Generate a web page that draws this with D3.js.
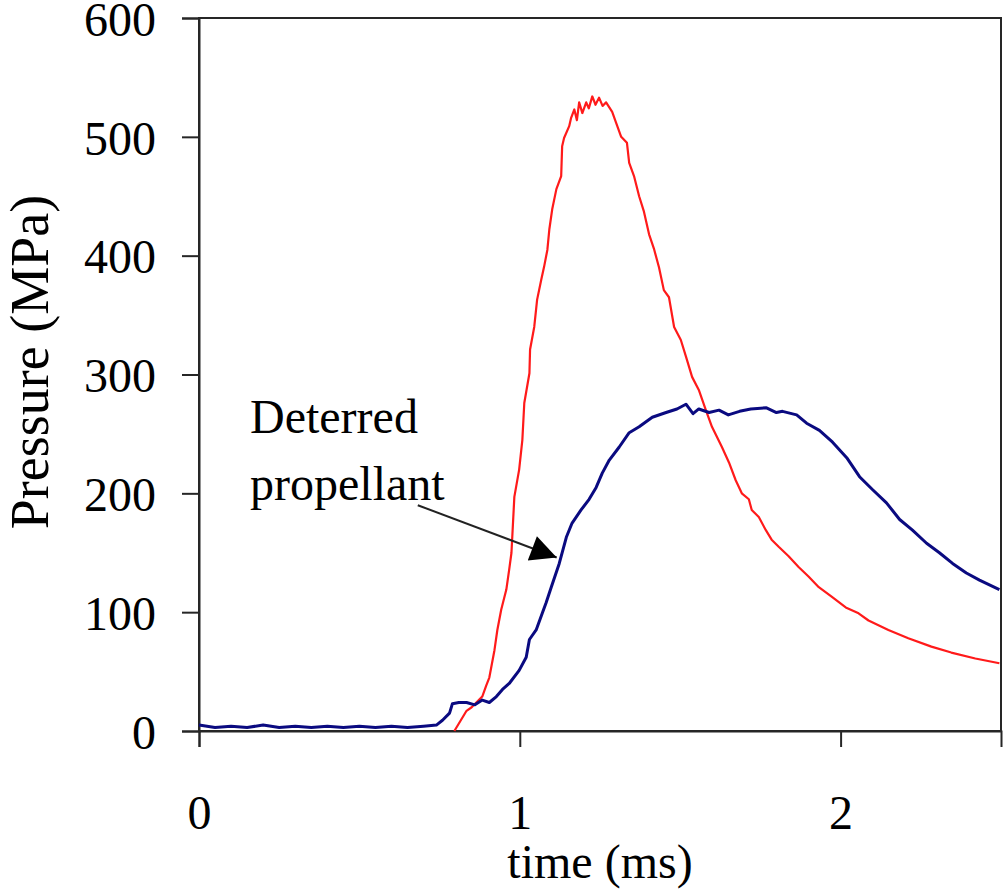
<!DOCTYPE html>
<html>
<head>
<meta charset="utf-8">
<script src="https://cdn.jsdelivr.net/npm/d3@7"></script>
<style>
  body { margin: 0; background: #fff; }
  text { font-family: "Liberation Serif", "Times New Roman", serif; }
</style>
</head>
<body>
<div id="chart"></div>
<script>
// values: time (ms), pressure (MPa)
var redTime = [0.796, 0.834, 0.850, 0.883, 0.895, 0.905, 0.921, 0.930, 0.942, 0.958, 0.967, 0.974, 0.983, 0.998, 1.008, 1.014, 1.030, 1.032, 1.045, 1.054, 1.067, 1.076, 1.086, 1.092, 1.101, 1.114, 1.129, 1.132, 1.138, 1.154, 1.160, 1.170, 1.178, 1.185, 1.195, 1.207, 1.215, 1.226, 1.236, 1.247, 1.258, 1.269, 1.288, 1.300, 1.316, 1.334, 1.341, 1.356, 1.372, 1.387, 1.403, 1.418, 1.434, 1.449, 1.465, 1.481, 1.502, 1.518, 1.537, 1.558, 1.580, 1.599, 1.630, 1.652, 1.673, 1.692, 1.714, 1.723, 1.745, 1.767, 1.785, 1.807, 1.838, 1.869, 1.900, 1.932, 1.972, 2.016, 2.056, 2.087, 2.149, 2.211, 2.283, 2.345, 2.420, 2.495];
var redPressure = [0, 17, 20, 29, 38, 45, 68, 85, 102, 119, 136, 150, 197, 220, 245, 276, 301, 321, 340, 363, 380, 391, 405, 422, 439, 456, 467, 492, 499, 509, 516, 523, 514, 529, 520, 529, 524, 534, 527, 533, 526, 529, 521, 512, 500, 495, 478, 467, 450, 437, 418, 406, 390, 371, 365, 340, 329, 315, 298, 287, 270, 256, 239, 226, 211, 200, 195, 186, 180, 169, 161, 155, 147, 138, 130, 121, 113, 104, 99, 93, 85, 78, 71, 66, 61, 57];

var blueTime = [0.0, 0.05, 0.1, 0.15, 0.2, 0.25, 0.3, 0.35, 0.4, 0.45, 0.5, 0.55, 0.6, 0.65, 0.7, 0.740, 0.759, 0.781, 0.790, 0.810, 0.834, 0.860, 0.883, 0.905, 0.927, 0.946, 0.967, 0.998, 1.020, 1.030, 1.051, 1.070, 1.082, 1.098, 1.123, 1.145, 1.163, 1.191, 1.216, 1.238, 1.257, 1.279, 1.310, 1.341, 1.372, 1.413, 1.456, 1.490, 1.518, 1.540, 1.558, 1.590, 1.621, 1.650, 1.685, 1.720, 1.769, 1.800, 1.819, 1.863, 1.894, 1.934, 1.975, 2.019, 2.059, 2.100, 2.143, 2.184, 2.224, 2.268, 2.308, 2.349, 2.392, 2.433, 2.495];
var bluePressure = [5, 3, 4, 3, 5, 3, 4, 3, 4, 3, 4, 3, 4, 3, 4, 5, 9, 15, 23, 24, 24, 22, 26, 24, 29, 35, 40, 51, 62, 77, 85, 99, 108, 121, 141, 163, 175, 186, 195, 205, 217, 228, 239, 251, 256, 264, 268, 271, 275, 267, 271, 268, 270, 266, 269, 271, 272, 268, 269, 266, 259, 253, 243, 230, 214, 203, 192, 178, 169, 158, 150, 141, 133, 127, 119];

var xTicks = [0, 1, 2];
var yTicks = [0, 100, 200, 300, 400, 500, 600];

// annotation: text anchor and arrow ends, in data units
var noteLines = ["Deterred", "propellant"];
var noteTime = 0.159;
var notePressure = [251, 194];
var arrowFrom = [0.682, 190];
var arrowTo = [1.115, 146];

var svgWidth = 1005;
var svgHeight = 895;
var margin = { top: 18, right: 4, bottom: 164, left: 199 };
var width = svgWidth - margin.left - margin.right;
var height = svgHeight - margin.top - margin.bottom;

var svg = d3.select("#chart")
    .append("svg")
    .attr("width", svgWidth)
    .attr("height", svgHeight);

var g = svg.append("g")
    .attr("transform", `translate(${margin.left}, ${margin.top})`);

var x = d3.scaleLinear().domain([0, 2.5]).range([0, width]);
var y = d3.scaleLinear().domain([0, 600]).range([height, 0]);

var axisColor = "#262626";

// frame (top and right)
g.append("rect")
    .attr("x", 0).attr("y", 0)
    .attr("width", width).attr("height", height)
    .attr("fill", "none")
    .attr("stroke", axisColor)
    .attr("stroke-width", 2);

var yAxis = g.append("g")
    .call(d3.axisLeft(y).tickValues(yTicks).tickSize(17).tickPadding(26).tickFormat(d3.format("d")));
var xAxis = g.append("g")
    .attr("transform", `translate(0, ${height})`)
    .call(d3.axisBottom(x).tickValues(xTicks).tickSize(16).tickPadding(48).tickFormat(d3.format("d")));

[xAxis, yAxis].forEach(function(a) {
    a.select(".domain").attr("stroke", axisColor).attr("stroke-width", 2);
    a.selectAll(".tick line").attr("stroke", axisColor).attr("stroke-width", 2);
    a.selectAll(".tick text")
        .attr("fill", "#000")
        .style("font-family", "'Liberation Serif', 'Times New Roman', serif")
        .style("font-size", "48px");
});
// keep the top label inside the page
yAxis.selectAll(".tick text").attr("dy", "0.36em");

// lines
var line = d3.line()
    .x(d => x(d[0]))
    .y(d => y(d[1]));

var redData = redTime.map((t, i) => [t, redPressure[i]]);
var blueData = blueTime.map((t, i) => [t, bluePressure[i]]);

g.append("path")
    .datum(redData)
    .attr("d", line)
    .attr("fill", "none")
    .attr("stroke", "#ff1a1a")
    .attr("stroke-width", 2.2)
    .attr("stroke-linejoin", "round");

g.append("path")
    .datum(blueData)
    .attr("d", line)
    .attr("fill", "none")
    .attr("stroke", "#0a0a80")
    .attr("stroke-width", 3)
    .attr("stroke-linejoin", "round");

// annotation
svg.append("defs").append("marker")
    .attr("id", "head")
    .attr("viewBox", "0 0 10 10")
    .attr("refX", 10).attr("refY", 5)
    .attr("markerWidth", 30).attr("markerHeight", 26)
    .attr("markerUnits", "userSpaceOnUse")
    .attr("orient", "auto")
    .append("path")
    .attr("d", "M0,0 L10,5 L0,10 Z")
    .attr("fill", "#000");

g.append("line")
    .attr("x1", x(arrowFrom[0])).attr("y1", y(arrowFrom[1]))
    .attr("x2", x(arrowTo[0])).attr("y2", y(arrowTo[1]))
    .attr("stroke", "#222")
    .attr("stroke-width", 2)
    .attr("marker-end", "url(#head)");

g.selectAll(".note")
    .data(noteLines)
    .enter()
    .append("text")
    .attr("class", "note")
    .attr("x", x(noteTime))
    .attr("y", (d, i) => y(notePressure[i]))
    .attr("font-size", "48px")
    .attr("fill", "#000")
    .text(d => d);

// axis titles
svg.append("text")
    .attr("x", margin.left + x(1.25))
    .attr("y", 878)
    .attr("text-anchor", "middle")
    .attr("font-size", "48px")
    .text("time (ms)");

svg.append("text")
    .attr("transform", "translate(48, 362) rotate(-90)")
    .attr("text-anchor", "middle")
    .attr("font-size", "54px")
    .text("Pressure (MPa)");
</script>
</body>
</html>
